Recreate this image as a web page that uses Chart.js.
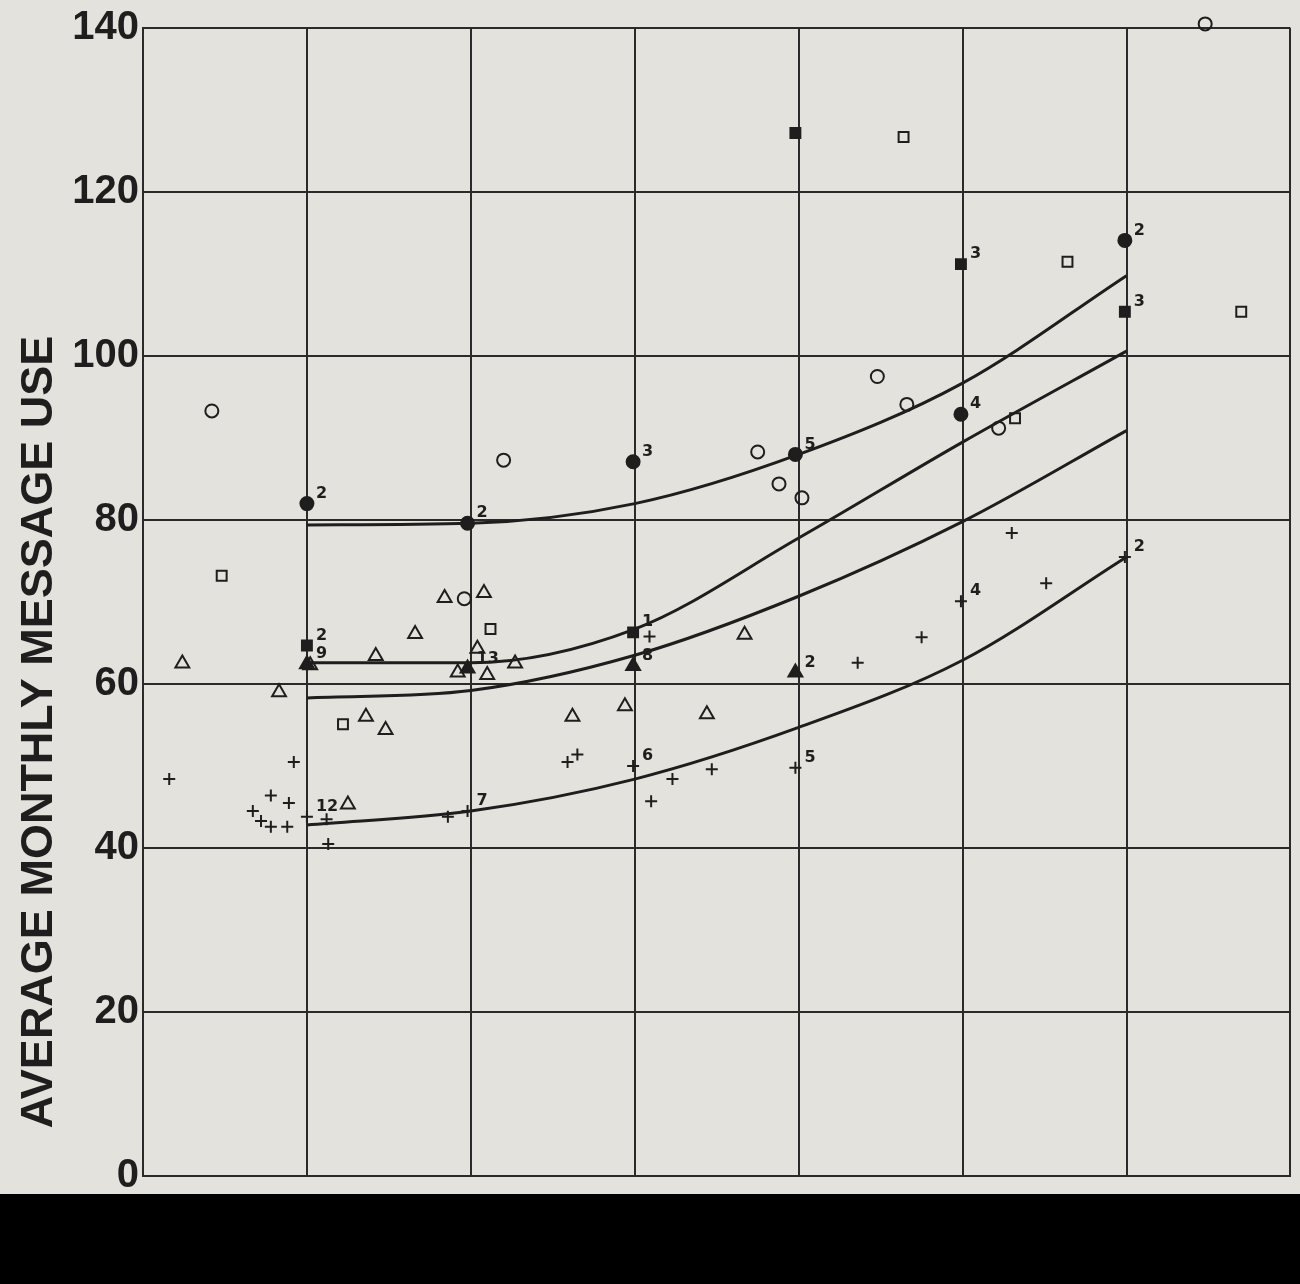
<!DOCTYPE html>
<html><head><meta charset="utf-8">
<script src="https://cdn.jsdelivr.net/npm/chart.js@4"></script>
<style>html,body{margin:0;padding:0;overflow:hidden;background:#e4e2dc;width:1300px;height:1284px;position:relative}canvas{display:block}#band{position:absolute;left:0;top:1194px;width:1300px;height:90px;background:#000}</style>
</head><body><canvas id="c" width="1332" height="1300"></canvas><div id="band"></div>
<script>
const xTicks=[0,10,20,30,40,50,60,70];
const yTicks=[0,20,40,60,80,100,120,140];
const curveX=[10,20,30,40,50,60];
const curve1=[79.4,79.6,82,88,96.7,109.8];
const curve2=[62.6,62.6,66.7,77.8,89.5,100.6];
const curve3=[58.3,59.2,63.5,70.7,79.8,90.9];
const curve4=[42.8,44.5,48.4,54.7,62.9,75.5];
const openCircleX=[4.2,22.0,19.6,37.5,38.8,40.2,44.8,46.6,52.2,64.8];
const openCircleY=[93.3,87.3,70.4,88.3,84.4,82.7,97.5,94.1,91.2,140.5];
const filledCircleX=[10,19.8,29.9,39.8,49.9,59.9];
const filledCircleY=[82,79.6,87.1,88,92.9,114.1];
const filledCircleLbl=["2","2","3","5","4","2"];
const openSquareX=[4.8,12.2,21.2,46.4,53.2,56.4,67];
const openSquareY=[73.2,55.1,66.7,126.7,92.4,111.5,105.4];
const filledSquareX=[10,29.9,39.8,49.9,59.9];
const filledSquareY=[64.7,66.3,127.2,111.2,105.4];
const filledSquareLbl=["2","1","","3","3"];
const openTriX=[2.4,8.3,10.2,14.2,12.5,13.6,14.8,16.6,18.4,20.8,20.4,19.2,21,22.7,26.2,29.4,34.4,36.7];
const openTriY=[62.5,59,62.3,63.4,45.3,56,54.4,66.1,70.5,71.1,64.3,61.4,61.1,62.5,56,57.3,56.3,66];
const filledTriX=[10,19.8,29.9,39.8];
const filledTriY=[62.4,61.9,62.2,61.4];
const filledTriLbl=["9","13","8","2"];
const plusX=[1.6,9.2,7.8,6.7,7.2,7.8,8.8,8.9,10,11.2,11.3,18.6,19.8,25.9,26.5,29.9,31,32.3,34.7,39.8,43.6,47.5,49.9,53,55.1,59.9,30.9];
const plusY=[48.4,50.5,46.4,44.5,43.3,42.6,42.6,45.5,43.8,43.5,40.5,43.8,44.5,50.5,51.4,50,45.7,48.4,49.6,49.8,62.6,65.7,70.1,78.4,72.3,75.5,65.8];
const plusLbl=["","","","","","","","","12","","","","7","","","6","","","","5","","","4","","","2",""];
const yTitle='AVERAGE MONTHLY MESSAGE USE';
const ink="#1e1e1e";
const pts=(xs,ys)=>xs.map((x,i)=>({x,y:ys[i]}));
const curve=(ys)=>({type:'line',data:pts(curveX,ys),borderColor:ink,borderWidth:3,pointRadius:0,tension:0.4,cubicInterpolationMode:'monotone',fill:false});
const sc=(xs,ys,style,filled,r,lbl)=>({type:'scatter',data:pts(xs,ys),pointStyle:style,pointRadius:r,borderColor:ink,borderWidth:2,backgroundColor:filled?ink:'rgba(0,0,0,0)',labels:lbl,clip:false});
const lblPlugin={id:'lbl',afterDatasetsDraw(ch){const c=ch.ctx;c.save();c.fillStyle=ink;c.font='bold 16px "DejaVu Sans"';c.textBaseline='middle';
ch.data.datasets.forEach((d,i)=>{if(!d.labels)return;const m=ch.getDatasetMeta(i);m.data.forEach((p,j)=>{const t=d.labels[j];if(t)c.fillText(t,p.x+9,p.y-10);});});
c.translate(40,732);c.rotate(-Math.PI/2);c.textAlign='center';c.font='bold 45px "Liberation Sans"';c.fillText(yTitle,0,0);c.restore();}};
new Chart(document.getElementById('c'),{data:{datasets:[
curve(curve1),curve(curve2),curve(curve3),curve(curve4),
sc(openCircleX,openCircleY,'circle',false,6.5),
sc(filledCircleX,filledCircleY,'circle',true,6.5,filledCircleLbl),
sc(openSquareX,openSquareY,'rect',false,7),
sc(filledSquareX,filledSquareY,'rect',true,7,filledSquareLbl),
sc(openTriX,openTriY,'triangle',false,8),
sc(filledTriX,filledTriY,'triangle',true,8,filledTriLbl),
sc(plusX,plusY,'cross',false,6,plusLbl)
]},plugins:[lblPlugin],
options:{responsive:false,animation:false,devicePixelRatio:1,layout:{padding:{top:22,right:0,left:0,bottom:0}},
plugins:{legend:{display:false},tooltip:{enabled:false}},
scales:{
x:{type:'linear',min:0,max:70,afterBuildTicks(a){a.ticks=xTicks.map(v=>({value:v}));},afterFit(a){a.height=1300-1176;},
grid:{color:'#2a2a2a',lineWidth:2,drawTicks:false},border:{color:'#2a2a2a',width:2},
ticks:{color:ink,font:{size:46,family:'Liberation Sans',weight:'bold'},padding:16}},
y:{type:'linear',min:0,max:140,afterBuildTicks(a){a.ticks=yTicks.map(v=>({value:v}));},afterFit(a){a.width=143;},
grid:{color:'#2a2a2a',lineWidth:2,drawTicks:false},border:{color:'#2a2a2a',width:2},
ticks:{color:ink,font:{size:40,family:'Liberation Sans',weight:'bold'},padding:4}}
}}});
</script></body></html>
